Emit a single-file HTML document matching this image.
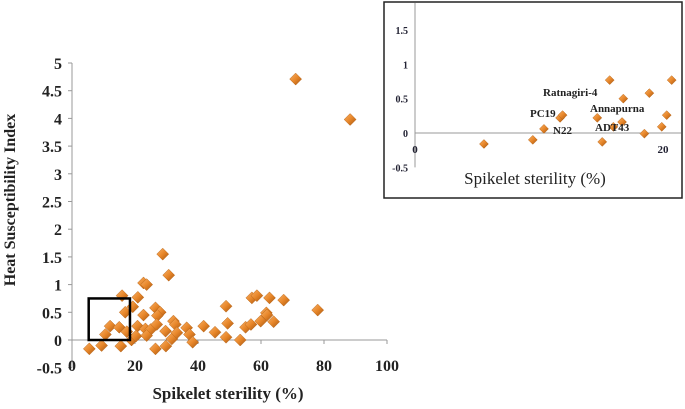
<!DOCTYPE html>
<html><head><meta charset="utf-8"><style>
body{margin:0;background:#fff;width:685px;height:404px;overflow:hidden;font-family:"Liberation Serif",serif}
</style></head><body>
<svg id="chart" width="685" height="404" xmlns="http://www.w3.org/2000/svg">
<defs>
<linearGradient id="dg" x1="0" y1="0" x2="1" y2="1">
<stop offset="0" stop-color="#f7b26a"/><stop offset="0.5" stop-color="#e8872a"/><stop offset="1" stop-color="#a55510"/>
</linearGradient>
</defs>
</svg>
<script>
const mainX=[71,88.3,28.8,30.7,22.7,23.7,15.9,20.9,19.3,16.9,26.5,28,27.1,22.7,12.1,15,17.4,20.8,23.3,25,26.9,29.7,32.2,32.8,36.4,37.3,38.3,31.7,29.8,26.5,18.9,15.5,9.4,5.5,10.6,20.3,23.7,33.3,41.8,45.4,48.9,49.4,48.9,53.4,55.1,56.8,57.1,58.7,62.7,61.7,59.9,64,67.2,78,61.9];
const mainY=[4.71,3.98,1.55,1.17,1.03,1.0,0.8,0.77,0.6,0.5,0.58,0.5,0.44,0.45,0.25,0.23,0.15,0.25,0.2,0.19,0.28,0.16,0.34,0.28,0.22,0.1,-0.04,0.02,-0.11,-0.16,0,-0.11,-0.1,-0.16,0.1,0.07,0.08,0.13,0.25,0.14,0.61,0.3,0.05,0,0.23,0.28,0.76,0.8,0.76,0.49,0.34,0.33,0.72,0.54,0.45];
const insetX=[5.56,9.5,10.4,11.7,11.9,14.7,15.1,15.7,16.0,16.7,16.8,18.5,18.9,19.9,20.3,20.7];
const insetY=[-0.16,-0.10,0.06,0.22,0.26,0.22,-0.13,0.77,0.09,0.16,0.50,-0.01,0.58,0.09,0.26,0.77];
const xTicks=[0,20,40,60,80,100];
const yTicks=[-0.5,0,0.5,1,1.5,2,2.5,3,3.5,4,4.5,5];
const insetYTicks=[-0.5,0,0.5,1,1.5];
const labels=[["Ratnagiri-4",543,96],["PC19",530,117],["N22",553,134],["Annapurna",590,112],["ADT43",595,131]];

const svg=document.getElementById('chart');
const NS="http://www.w3.org/2000/svg";
function mk(t,a,parent){const e=document.createElementNS(NS,t);for(const k in a)e.setAttribute(k,a[k]);(parent||svg).appendChild(e);return e;}
const sx=v=>72+v*3.15, sy=v=>340-v*55.4;
const ix=v=>415+v*12.4, iy=v=>133-v*68.7;

// main axes
let e;
e=mk('line',{x1:sx(0),y1:sy(-0.5),x2:sx(0),y2:sy(5),stroke:'#999','stroke-width':1});


e=mk('line',{x1:sx(0),y1:sy(0),x2:sx(100),y2:sy(0),stroke:'#999','stroke-width':1});


yTicks.forEach(v=>{
  mk('line',{x1:sx(0)-4,x2:sx(0),y1:sy(v),y2:sy(v),stroke:'#999'});
  const t=mk('text',{x:sx(0)-10,y:sy(v)+6,'text-anchor':'end','font-size':16,'font-weight':'bold',fill:'#222'});
  t.textContent=v;
  
  
});
xTicks.forEach(v=>{
  mk('line',{x1:sx(v),x2:sx(v),y1:sy(0),y2:sy(0)+4,stroke:'#999'});
  const t=mk('text',{x:sx(v),y:371,'text-anchor':'middle','font-size':16,'font-weight':'bold',fill:'#222'});
  t.textContent=v;
  
  
});
e=mk('text',{x:228,y:399,'text-anchor':'middle','font-size':17,'font-weight':'bold',fill:'#222'});
e.textContent='Spikelet  sterility (%)';


e=mk('text',{x:0,y:0,transform:'translate(15,200) rotate(-90)','text-anchor':'middle','font-size':16,'font-weight':'bold',fill:'#222'});
e.textContent='Heat Susceptibility Index';



function diamond(x,y,r,name){
  const d=mk('path',{d:`M${x} ${y-r}L${x+r} ${y}L${x} ${y+r}L${x-r} ${y}Z`,fill:'url(#dg)',stroke:'#b8661a','stroke-width':0.5});
  
  
}
mainX.forEach((v,i)=>diamond(sx(v),sy(mainY[i]),6,'data-point'));

// zoom box
e=mk('rect',{x:sx(5.3),y:sy(0.75),width:sx(18.4)-sx(5.3),height:sy(0)-sy(0.75),fill:'none',stroke:'#000','stroke-width':2.5});



// inset
e=mk('rect',{x:384,y:2,width:298,height:196,fill:'#fff',stroke:'#222','stroke-width':1.5});


mk('line',{x1:415,y1:3,x2:415,y2:iy(-0.5),stroke:'#999'});
mk('line',{x1:415,y1:iy(0),x2:681,y2:iy(0),stroke:'#999'});
insetYTicks.forEach(v=>{
  const t=mk('text',{x:408,y:iy(v)+4,'text-anchor':'end','font-size':10,'font-weight':'bold',fill:'#223'});
  t.textContent=v;
  
  
});
[[0,'0'],[20,'20']].forEach(([v,s])=>{
  const t=mk('text',{x:ix(v),y:153,'text-anchor':'middle','font-size':11,'font-weight':'bold',fill:'#223'});
  t.textContent=s;
  
  
});
insetX.forEach((v,i)=>diamond(ix(v),iy(insetY[i]),4.5,'inset-data-point'));
labels.forEach(([s,x,y])=>{
  const t=mk('text',{x:x,y:y,'font-size':11,'font-weight':'bold',fill:'#222'});
  t.textContent=s;
  
  
});
e=mk('text',{x:535,y:184,'text-anchor':'middle','font-size':17,fill:'#222'});
e.textContent='Spikelet sterility (%)';


</script>
</body></html>
